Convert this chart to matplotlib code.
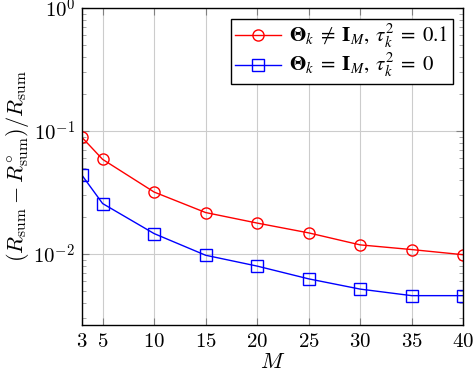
import numpy as np
from matplotlib import pyplot as plt

# data
M = [3, 5, 10, 15, 20, 25, 30, 35, 40]
err_theta = [0.089, 0.059, 0.032, 0.0218, 0.0179, 0.0149, 0.0119, 0.0109, 0.0099]
err_ident = [0.0438, 0.0258, 0.0147, 0.0098, 0.0080, 0.0063, 0.0052, 0.0046, 0.0046]
xticks = [3, 5, 10, 15, 20, 25, 30, 35, 40]

plt.rcParams['mathtext.fontset'] = 'cm'
plt.rcParams['font.family'] = 'serif'
plt.rcParams['font.serif'] = ['DejaVu Serif']

fig = plt.figure(figsize=(4.74, 3.72), dpi=100)
ax = fig.add_axes([0.173, 0.126, 0.804, 0.852])

ax.plot(M, err_theta, color='red', marker='o', markersize=8, markerfacecolor='none',
        markeredgewidth=1.0, linewidth=1.0,
        label=r'$\mathbf{\Theta}_k \;\neq\; \mathbf{I}_M,\; \tau_k^2 \;=\; 0.1$')
ax.plot(M, err_ident, color='blue', marker='s', markersize=8, markerfacecolor='none',
        markeredgewidth=1.0, linewidth=1.0,
        label=r'$\mathbf{\Theta}_k \;=\; \mathbf{I}_M,\; \tau_k^2 \;=\; 0$')

ax.set_yscale('log')
ax.set_xlim(3, 40)
ax.set_ylim(10 ** -2.577, 1)
ax.set_xticks(xticks)
ax.set_xticklabels([r'$%d$' % v for v in xticks])
ax.set_yticks([1e-2, 1e-1, 1])
ax.set_yticklabels([r'$10^{-2}$', r'$10^{-1}$', r'$10^{0}$'])
ax.tick_params(axis='both', which='both', direction='in', top=True, right=True, labelsize=15)
ax.tick_params(axis='x', which='minor', bottom=False, top=False)
ax.tick_params(axis='y', which='minor', length=3, color='0.6')
ax.tick_params(axis='both', which='major', length=5, color='0.5', pad=5)
ax.grid(True, which='major', color='0.8', linewidth=0.8)
for s in ax.spines.values():
    s.set_linewidth(1.0)

ax.set_xlabel(r'$M$', fontsize=16, labelpad=0)
ax.set_ylabel(r'$(R_{\mathrm{sum}} - R_{\mathrm{sum}}^{\circ})/R_{\mathrm{sum}}$', fontsize=16, labelpad=2)

# stix math font so the bold Theta actually renders bold
leg = ax.legend(loc='upper right', prop={'size': 15, 'math_fontfamily': 'stix'},
                fancybox=False, framealpha=1,
                edgecolor='black', handlelength=2.2, borderpad=0.2, labelspacing=0.1,
                handletextpad=0.4, borderaxespad=0.5)
leg.get_frame().set_linewidth(1.0)

fig.savefig('out.png', dpi=100)
